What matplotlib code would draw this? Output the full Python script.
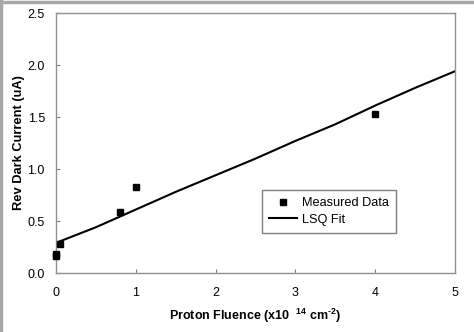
import matplotlib
matplotlib.use("Agg")
import matplotlib.pyplot as plt
from matplotlib.lines import Line2D

plt.rcParams['font.family'] = ['Liberation Sans', 'DejaVu Sans']
plt.rcParams['mathtext.fontset'] = 'custom'
plt.rcParams['mathtext.rm'] = 'Liberation Sans:bold'
plt.rcParams['mathtext.bf'] = 'Liberation Sans:bold'
plt.rcParams['mathtext.default'] = 'bf'

# measured reverse dark current vs proton fluence
fluence = [0.0, 0.0, 0.05, 0.8, 1.0, 4.0]
current = [0.18, 0.16, 0.28, 0.59, 0.83, 1.53]

# least squares fit curve
fit_x = [0.0, 0.5, 1.0, 1.5, 2.0, 2.5, 3.0, 3.5, 4.0, 4.5, 5.0]
fit_y = [0.29, 0.44, 0.61, 0.78, 0.94, 1.10, 1.27, 1.43, 1.61, 1.78, 1.94]

xticks = [0, 1, 2, 3, 4, 5]
yticks = [0.0, 0.5, 1.0, 1.5, 2.0, 2.5]

fig = plt.figure(figsize=(4.74, 3.32), dpi=100)
ax = fig.add_axes([56/474, 1 - 273/332, (455-56)/474, (273-13)/332])

ax.plot(fit_x, fit_y, color='black', lw=1.5, label='LSQ Fit')
ax.plot(fluence, current, 's', color='black', ms=4.5, label='Measured Data',
        clip_on=False, zorder=3)

ax.set_xlim(0, 5)
ax.set_ylim(0, 2.5)
ax.set_xticks(xticks)
ax.set_yticks(yticks)
ax.set_yticklabels([f"{v:.1f}" for v in yticks])
ax.tick_params(direction='in', length=3, width=0.8, color='#808080',
               labelsize=9, pad=8)
ax.tick_params(axis='x', pad=10)
for s in ax.spines.values():
    s.set_color('#909090')
    s.set_linewidth(1.0)

ax.set_xlabel(r'Proton Fluence (x10  $^{\text{14}}$ cm$^{\text{-2}}$)',
              fontsize=9, fontweight='bold', labelpad=6)
ax.set_ylabel('Rev Dark Current (uA)', fontsize=9.3, fontweight='bold',
              labelpad=2)

handles, labels = ax.get_legend_handles_labels()
leg = ax.legend(handles[::-1], labels[::-1], loc='upper left',
                bbox_to_anchor=((262-56)/399, (273-190)/260),
                fontsize=9.2, frameon=True, fancybox=False, borderpad=0.55,
                handlelength=2.2, handletextpad=0.4, borderaxespad=0,
                labelspacing=0.35)
leg.get_frame().set_edgecolor('#606060')
leg.get_frame().set_linewidth(1.0)

# image border on top and left
fig.add_artist(Line2D([0.003, 0.003], [0, 1], color='#a8a8a8', lw=2.5,
                      transform=fig.transFigure))
fig.add_artist(Line2D([0, 1], [0.995, 0.995], color='#a8a8a8', lw=2.5,
                      transform=fig.transFigure))

fig.savefig('out.png', dpi=100)
